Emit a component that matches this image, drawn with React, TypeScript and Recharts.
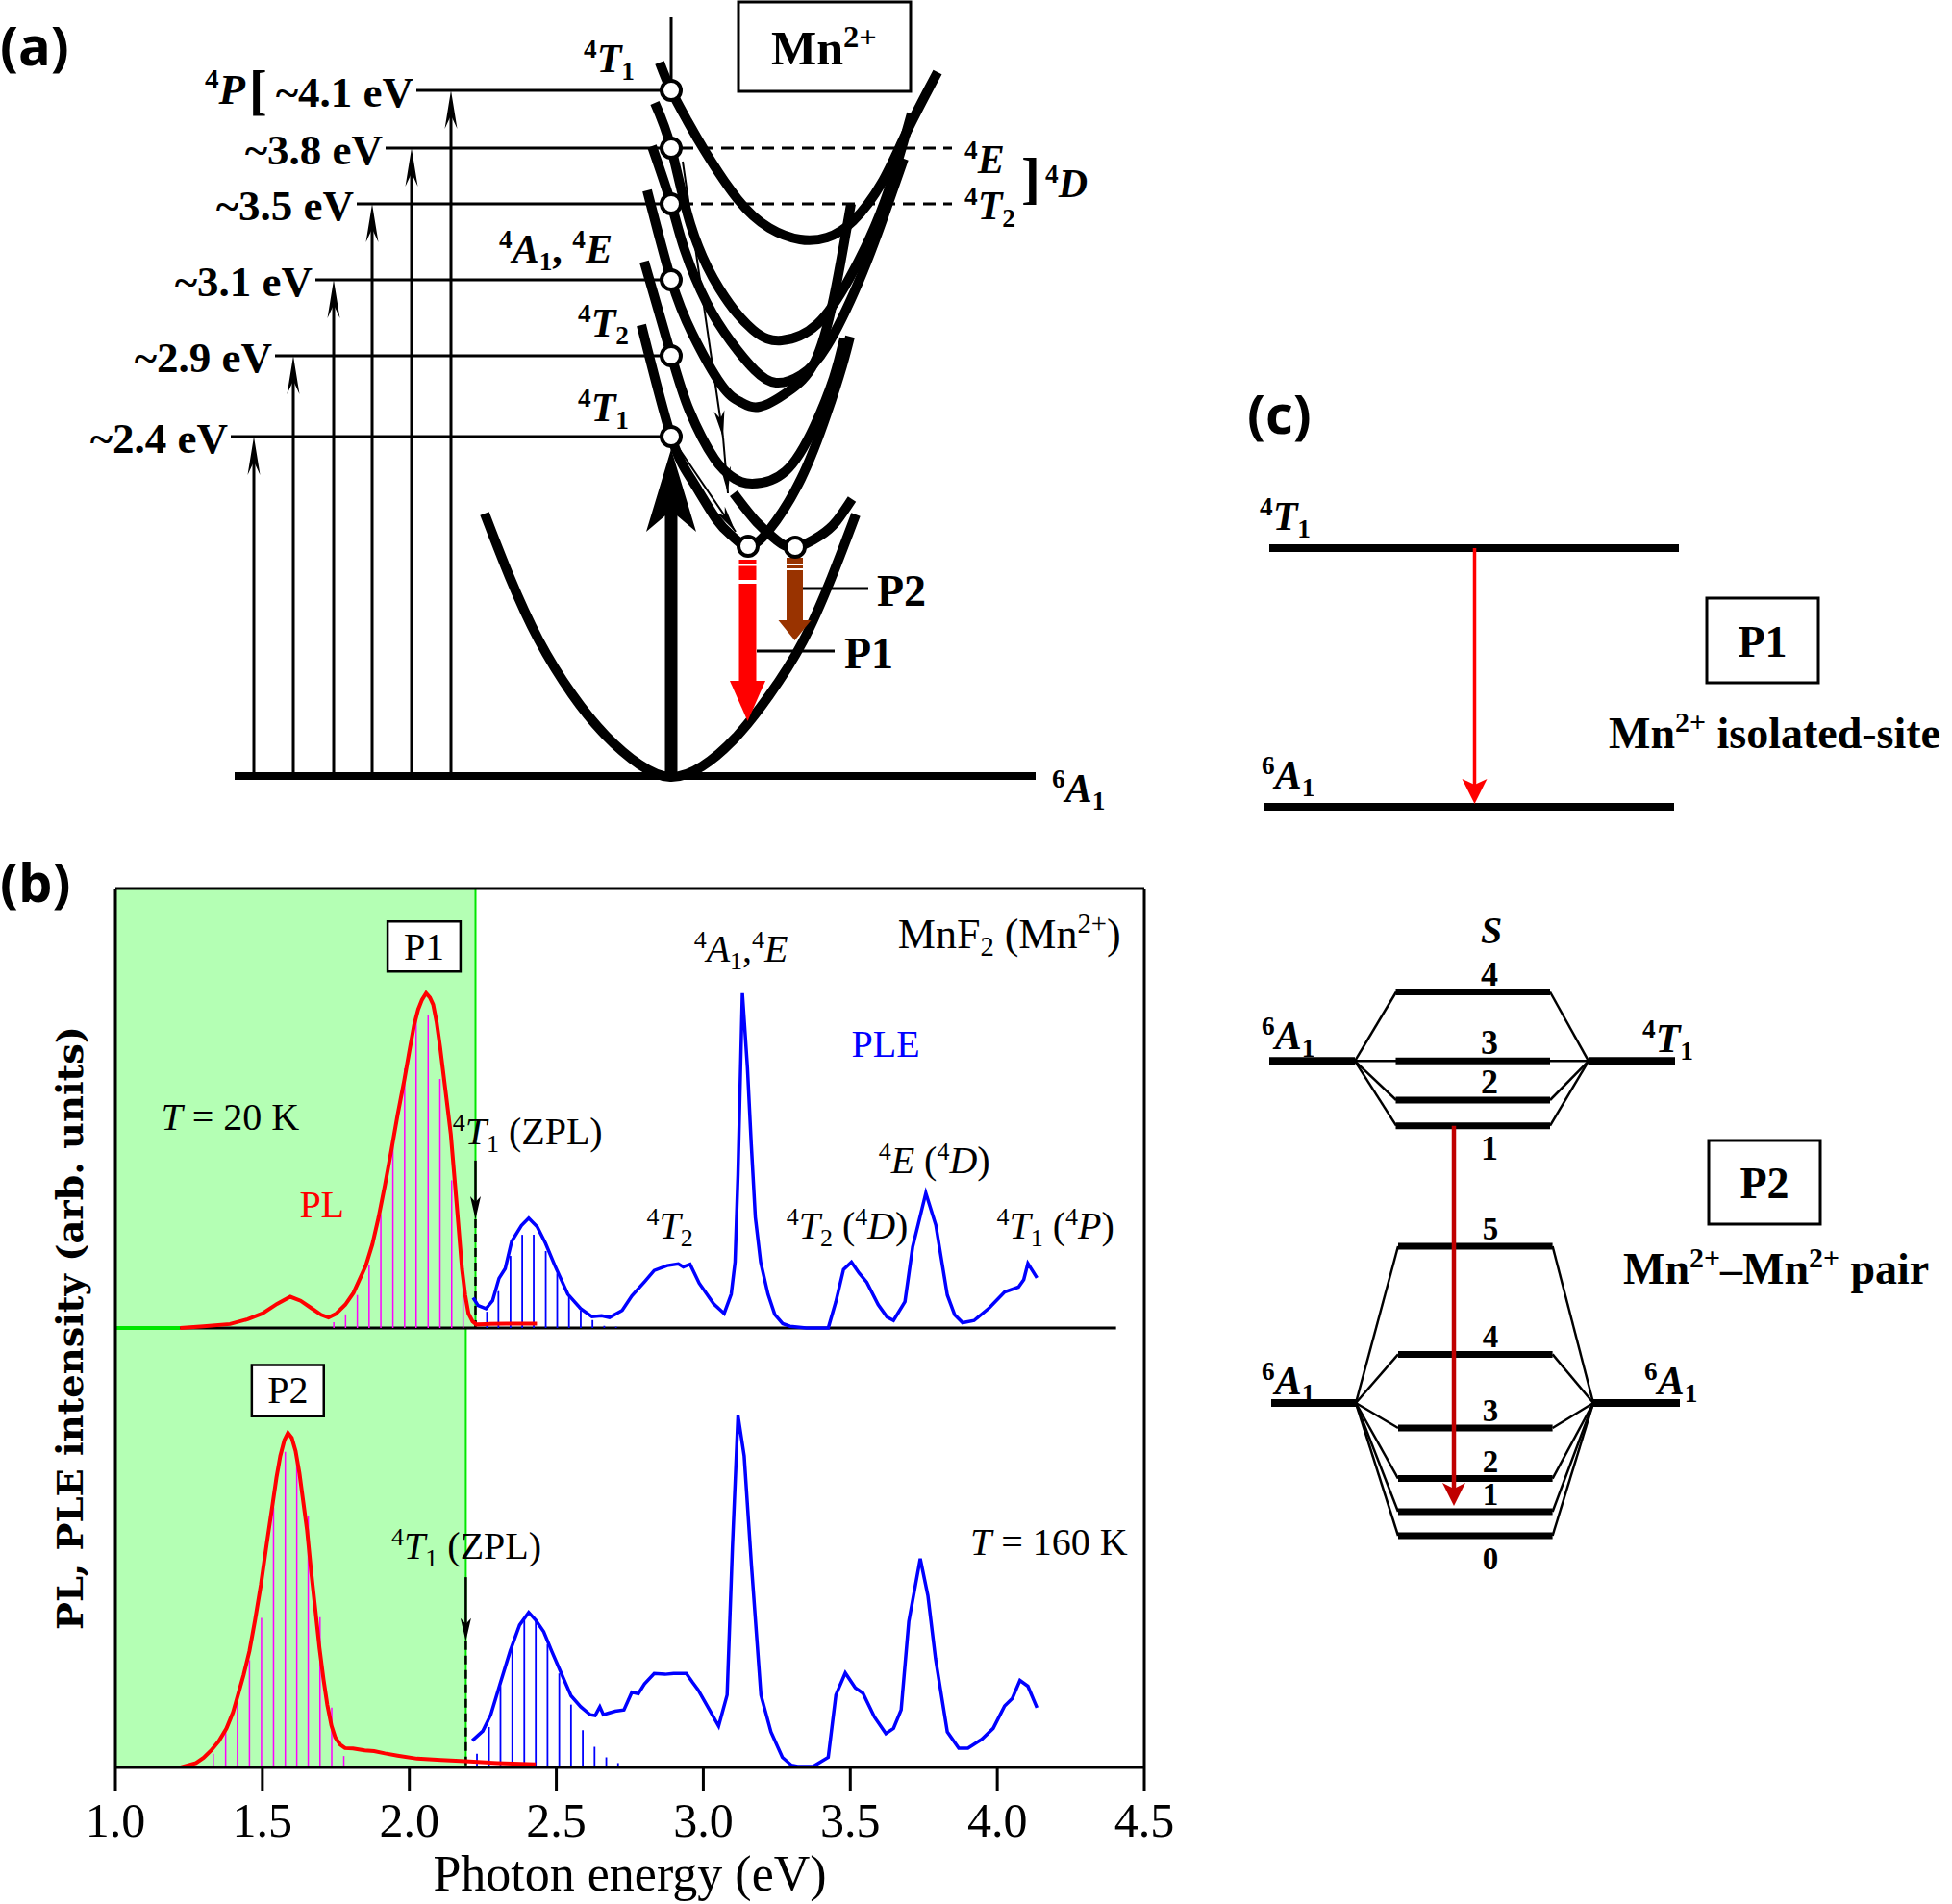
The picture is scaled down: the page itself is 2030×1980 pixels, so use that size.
import React from "react";
import {
  LineChart,
  Line,
  XAxis,
  YAxis,
  ReferenceLine,
  ReferenceArea,
  ReferenceDot,
} from "recharts";

const SERIF = '"Liberation Serif", "Times New Roman", serif';
const SANS = '"Open Sans", sans-serif';

type P = [number, number];

// ---------------- (b) spectra: [photon energy (eV), intensity] ----------------
const PL_20K: P[] = [
  [1.22, 0], [1.3, 0.004], [1.39, 0.009], [1.45, 0.02], [1.5, 0.033], [1.55, 0.055],
  [1.595, 0.071], [1.63, 0.062], [1.665, 0.046], [1.7, 0.03], [1.725, 0.024], [1.75, 0.032],
  [1.782, 0.053], [1.81, 0.08], [1.852, 0.142], [1.874, 0.19], [1.895, 0.251], [1.917, 0.325],
  [1.939, 0.405], [1.96, 0.485], [1.983, 0.565], [2.0, 0.63], [2.016, 0.689], [2.03, 0.725],
  [2.043, 0.747], [2.057, 0.762], [2.07, 0.752], [2.081, 0.736], [2.093, 0.695], [2.105, 0.638],
  [2.123, 0.54], [2.141, 0.441], [2.16, 0.29], [2.179, 0.135], [2.19, 0.075], [2.201, 0.033],
  [2.215, 0.015], [2.228, 0.008], [2.26, 0.009], [2.33, 0.01], [2.434, 0.01],
];

const PLE_20K: P[] = [
  [2.217, 0.069], [2.234, 0.051], [2.261, 0.044], [2.283, 0.062], [2.305, 0.113], [2.326, 0.135],
  [2.348, 0.197], [2.381, 0.233], [2.406, 0.25], [2.435, 0.23], [2.463, 0.193], [2.495, 0.142],
  [2.539, 0.077], [2.583, 0.044], [2.621, 0.026], [2.654, 0.028], [2.681, 0.024], [2.724, 0.04],
  [2.757, 0.073], [2.801, 0.106], [2.833, 0.131], [2.877, 0.142], [2.915, 0.146], [2.932, 0.139],
  [2.955, 0.145], [2.986, 0.102], [3.035, 0.055], [3.071, 0.033], [3.095, 0.077], [3.108, 0.15],
  [3.118, 0.35], [3.133, 0.762], [3.15, 0.594], [3.163, 0.42], [3.177, 0.252], [3.195, 0.15],
  [3.22, 0.077], [3.243, 0.031], [3.27, 0.01], [3.295, 0.004], [3.35, 0], [3.425, 0],
  [3.451, 0.06], [3.477, 0.133], [3.504, 0.15], [3.53, 0.125], [3.556, 0.104], [3.595, 0.053],
  [3.625, 0.025], [3.647, 0.017], [3.686, 0.06], [3.712, 0.184], [3.757, 0.307], [3.791, 0.234],
  [3.83, 0.075], [3.855, 0.03], [3.882, 0.012], [3.921, 0.017], [3.973, 0.046], [4.025, 0.082],
  [4.072, 0.093], [4.09, 0.11], [4.104, 0.147], [4.135, 0.114],
];

const PL_160K: P[] = [
  [1.222, 0], [1.274, 0.01], [1.3, 0.022], [1.326, 0.039], [1.352, 0.06], [1.378, 0.089],
  [1.4, 0.125], [1.417, 0.165], [1.436, 0.21], [1.456, 0.265], [1.475, 0.335], [1.495, 0.416],
  [1.515, 0.51], [1.535, 0.6], [1.548, 0.66], [1.561, 0.709], [1.575, 0.745], [1.587, 0.761],
  [1.6, 0.75], [1.613, 0.72], [1.626, 0.67], [1.639, 0.605], [1.652, 0.54], [1.666, 0.445],
  [1.68, 0.36], [1.694, 0.273], [1.708, 0.2], [1.721, 0.142], [1.735, 0.095], [1.748, 0.068],
  [1.765, 0.052], [1.781, 0.044], [1.808, 0.043], [1.848, 0.039], [1.88, 0.037], [1.917, 0.032],
  [1.96, 0.027], [2.026, 0.02], [2.108, 0.017], [2.19, 0.014], [2.3, 0.01], [2.43, 0.007],
];

const PLE_160K: P[] = [
  [2.214, 0.061], [2.25, 0.083], [2.277, 0.12], [2.31, 0.193], [2.343, 0.265], [2.375, 0.324],
  [2.406, 0.353], [2.43, 0.335], [2.457, 0.309], [2.484, 0.265], [2.517, 0.214], [2.55, 0.163],
  [2.583, 0.138], [2.615, 0.12], [2.632, 0.118], [2.648, 0.138], [2.66, 0.12], [2.675, 0.123],
  [2.7, 0.128], [2.73, 0.131], [2.757, 0.171], [2.779, 0.168], [2.8, 0.19], [2.833, 0.214],
  [2.87, 0.212], [2.899, 0.214], [2.942, 0.214], [2.964, 0.193], [2.982, 0.177], [3.021, 0.131],
  [3.052, 0.094], [3.081, 0.165], [3.099, 0.5], [3.118, 0.801], [3.139, 0.709], [3.164, 0.458],
  [3.196, 0.165], [3.23, 0.081], [3.269, 0.023], [3.3, 0.005], [3.321, 0.002], [3.373, 0.002],
  [3.425, 0.023], [3.451, 0.165], [3.483, 0.215], [3.517, 0.181], [3.543, 0.169], [3.582, 0.115],
  [3.621, 0.077], [3.647, 0.089], [3.673, 0.131], [3.699, 0.332], [3.738, 0.475], [3.764, 0.391],
  [3.79, 0.247], [3.83, 0.081], [3.869, 0.044], [3.9, 0.044], [3.947, 0.064], [3.986, 0.089],
  [4.025, 0.14], [4.051, 0.157], [4.077, 0.198], [4.104, 0.185], [4.135, 0.136],
];

const PL_20K_STICKS: P[] = [
  [1.743, 0.013], [1.783, 0.031], [1.823, 0.075], [1.863, 0.142], [1.903, 0.259], [1.944, 0.419],
  [1.984, 0.591], [2.023, 0.707], [2.064, 0.711], [2.104, 0.567], [2.144, 0.336], [2.183, 0.128],
];
const PLE_20K_STICKS: P[] = [
  [2.264, 0.037], [2.303, 0.084], [2.344, 0.164], [2.384, 0.212], [2.423, 0.212], [2.464, 0.175],
  [2.503, 0.124], [2.543, 0.073], [2.583, 0.04], [2.623, 0.018], [2.663, 0.005], [2.703, 0.003],
];
const PL_160K_STICKS: P[] = [
  [1.333, 0.031], [1.375, 0.081], [1.415, 0.148], [1.456, 0.244], [1.497, 0.34], [1.538, 0.592],
  [1.578, 0.718], [1.617, 0.705], [1.656, 0.571], [1.696, 0.342], [1.736, 0.136], [1.777, 0.026],
];
const PLE_160K_STICKS: P[] = [
  [2.23, 0.031], [2.271, 0.092], [2.31, 0.185], [2.35, 0.274], [2.391, 0.335], [2.43, 0.333],
  [2.47, 0.28], [2.51, 0.214], [2.55, 0.143], [2.59, 0.085], [2.63, 0.047], [2.67, 0.023],
  [2.71, 0.01], [2.749, 0.004],
];

const X_TICKS = [1.0, 1.5, 2.0, 2.5, 3.0, 3.5, 4.0, 4.5];
const OFFSET_20K = 1; // upper spectrum is stacked one unit above the lower
const ZPL_20K = 2.225;
const ZPL_160K = 2.192;

// ---------------- (a) configuration-coordinate diagram (diagram units) ----------------
const LEVEL_LABELS = ["~2.4 eV", "~2.9 eV", "~3.1 eV", "~3.5 eV", "~3.8 eV", "~4.1 eV"];
const LEVEL_E = [454, 370, 291, 212, 154, 94];
const LEVEL_LABEL_END = [237, 283, 325, 368, 398, 430];
const PUMP_Q = [264, 305, 347, 387, 428, 469];
const Q0 = 698;
const GROUND_E = 807;
const DASHED_E = [154, 212];

const GROUND_CURVE: P[] = [
  [504, 534], [530, 600], [560, 665], [595, 722], [630, 765], [665, 795], [697, 808],
  [730, 797], [765, 767], [800, 723], [835, 667], [865, 600], [890, 535],
];
const EXCITED_CURVES: P[][] = [
  [[686, 65], [698, 94], [715, 126], [733, 157], [767, 207], [800, 237], [832, 249], [860, 247], [887, 230], [917, 190], [943, 137], [975, 75]],
  [[681, 107], [698, 154], [718, 233], [748, 300], [783, 343], [813, 354], [850, 337], [883, 290], [910, 235], [930, 180], [948, 118]],
  [[678, 152], [698, 212], [712, 260], [735, 315], [760, 355], [785, 385], [807, 398], [833, 390], [860, 360], [893, 293], [918, 228], [940, 165]],
  [[673, 198], [698, 291], [720, 347], [750, 400], [770, 418], [790, 423], [820, 407], [847, 377], [867, 310], [885, 212]],
  [[670, 272], [698, 369], [717, 427], [743, 477], [763, 497], [782, 503], [817, 490], [847, 443], [867, 393], [878, 352]],
  [[667, 338], [698, 454], [720, 500], [745, 540], [762, 558], [778, 568], [800, 551], [833, 498], [860, 430], [876, 380], [884, 350]],
];
const WELL2_CURVE: P[] = [[763, 513], [787, 543], [808, 562], [827, 569], [853, 557], [870, 542], [886, 519]];
const RELAX: [P, P][] = [
  [[710, 168], [752, 455]],
  [[752, 455], [757, 513]],
  [[703, 462], [765, 553]],
];
const MINIMA: P[] = [[778, 568], [827, 569]];

// ---------------- (c) level schemes (diagram units) ----------------
const ISO_T1 = 570;
const ISO_A1 = 839;
const PAIR_EXC_S = [4, 3, 2, 1];
const PAIR_EXC_E = [1031.5, 1103.3, 1144, 1170.7];
const PAIR_EXC_REF = 1103.3;
const PAIR_GND_S = [5, 4, 3, 2, 1, 0];
const PAIR_GND_E = [1296, 1408.4, 1485, 1537.6, 1572, 1597];
const PAIR_GND_REF = 1459;

// ---------------- helpers ----------------
type Seg = { t: string; k?: "sup" | "sub"; i?: boolean };
const n = (t: string): Seg => ({ t });
const it = (t: string): Seg => ({ t, i: true });
const sup = (t: string): Seg => ({ t, k: "sup" });
const sub = (t: string): Seg => ({ t, k: "sub" });

type TextOpts = {
  anchor?: string;
  weight?: number;
  color?: string;
  family?: string;
  rotate?: number;
  length?: number;
};

function richShape(segs: Seg[], size: number, o: TextOpts = {}) {
  const { anchor = "start", weight = 700, color = "#000", family = SERIF, rotate, length } = o;
  return (p: any) => {
    let shift = 0;
    const spans = segs.map((s, i) => {
      const target = s.k === "sup" ? -0.36 * size : s.k === "sub" ? 0.2 * size : 0;
      const dy = target - shift;
      shift = target;
      return (
        <tspan key={i} dy={dy} fontSize={s.k ? size * 0.65 : size} fontStyle={s.i ? "italic" : "normal"}>
          {s.t}
        </tspan>
      );
    });
    return (
      <text
        x={p.cx}
        y={p.cy}
        textAnchor={anchor}
        fontFamily={family}
        fontWeight={weight}
        fontSize={size}
        fill={color}
        style={{ whiteSpace: "pre" }}
        transform={rotate ? `rotate(${rotate} ${p.cx} ${p.cy})` : undefined}
        textLength={length}
        lengthAdjust={length ? "spacingAndGlyphs" : undefined}
      >
        {spans}
      </text>
    );
  };
}

function note(key: string, x: number, y: number, segs: Seg[], size: number, o: TextOpts = {}) {
  return <ReferenceDot key={key} x={x} y={y} r={1} ifOverflow="visible" shape={richShape(segs, size, o)} />;
}

function headShape(dx: number, dy: number, w: number, len: number, notch: number, color: string) {
  const m = Math.hypot(dx, dy);
  const ux = dx / m;
  const uy = dy / m;
  const nx = -uy;
  const ny = ux;
  return (p: any) => {
    const { cx, cy } = p;
    const bx = cx - ux * len;
    const by = cy - uy * len;
    const pts = [
      [cx, cy],
      [bx + (nx * w) / 2, by + (ny * w) / 2],
      [cx - ux * (len - notch), cy - uy * (len - notch)],
      [bx - (nx * w) / 2, by - (ny * w) / 2],
    ];
    return <polygon points={pts.map((q) => q.join(",")).join(" ")} fill={color} />;
  };
}

// arrowhead; (dx, dy) is the pointing direction on screen
function head(key: string, x: number, y: number, dx: number, dy: number, w: number, len: number, notch: number, color = "#000") {
  return <ReferenceDot key={key} x={x} y={y} r={1} ifOverflow="visible" shape={headShape(dx, dy, w, len, notch, color)} />;
}

function path(key: string, pts: P[], stroke: string, width: number, type: any = "linear", dash?: string) {
  return (
    <Line
      key={key}
      data={pts.map(([x, y]) => ({ x, y }))}
      dataKey="y"
      type={type}
      stroke={stroke}
      strokeWidth={width}
      strokeDasharray={dash}
      dot={false}
      activeDot={false}
      legendType="none"
      isAnimationActive={false}
    />
  );
}

const ZERO = { top: 0, right: 0, bottom: 0, left: 0 };

// ---------------- panel (a) ----------------
function PanelA() {
  const stateLabel = (t: string, s: string): Seg[] => [sup("4"), it(t), sub(s)];
  return (
    <LineChart width={1180} height={870} margin={ZERO}>
      <XAxis type="number" dataKey="x" domain={[0, 1180]} hide allowDataOverflow />
      <YAxis type="number" dataKey="y" domain={[0, 870]} reversed hide allowDataOverflow />
      <ReferenceArea x1={768} x2={947} y1={2} y2={95} fill="#fff" fillOpacity={1} stroke="#000" strokeWidth={3} ifOverflow="visible" />

      {path("ground-level", [[244, GROUND_E], [1077, GROUND_E]], "#000", 8)}
      {LEVEL_E.map((e, i) => path(`lvl${i}`, [[LEVEL_LABEL_END[i] + 3, e], [Q0, e]], "#000", 3))}
      {PUMP_Q.map((q, i) => path(`pump${i}`, [[q, GROUND_E], [q, LEVEL_E[i] + 20]], "#000", 3))}
      {DASHED_E.map((e, i) => path(`dash${i}`, [[708, e], [990, e]], "#000", 3, "linear", "13 8"))}

      {path("ground", GROUND_CURVE, "#000", 10, "natural")}
      {EXCITED_CURVES.map((c, i) => path(`exc${i}`, c, "#000", 10, "natural"))}
      {path("well2", WELL2_CURVE, "#000", 10, "natural")}

      {path("pump-main", [[Q0, GROUND_E], [Q0, 530]], "#000", 13)}
      {path("top-line", [[Q0, 18], [Q0, LEVEL_E[5]]], "#000", 3)}
      {RELAX.map(([a, b], i) => path(`rel${i}`, [a, b], "#000", 2))}

      {path("p1-bar", [[777.5, 582], [777.5, 710]], "#ff0000", 18)}
      {path("p1-w1", [[768, 587.5], [787, 587.5]], "#fff", 2)}
      {path("p1-w2", [[768, 605], [787, 605]], "#fff", 4)}
      {path("p2-bar", [[826.5, 580], [826.5, 647]], "#993300", 17)}
      {path("p2-w1", [[818, 587], [835, 587]], "#fff", 2)}
      {path("p2-w2", [[818, 592], [835, 592]], "#fff", 2)}
      {path("p2-lead", [[835, 612], [903, 612]], "#000", 3)}
      {path("p1-lead", [[787, 677], [868, 677]], "#000", 3)}

      {PUMP_Q.map((q, i) => head(`ph${i}`, q, LEVEL_E[i], 0, -1, 13, 40, 14))}
      {head("main-head", Q0, 467, 0, -1, 52, 86, 22)}
      {RELAX.map(([a, b], i) => head(`rh${i}`, b[0], b[1], b[0] - a[0], b[1] - a[1], 11, 28, 8))}
      {head("p1-head", 777.5, 750, 0, 1, 37, 42, 0, "#ff0000")}
      {head("p2-head", 826.5, 666, 0, 1, 34, 21, 0, "#993300")}

      {LEVEL_E.map((e, i) => (
        <ReferenceDot key={`c${i}`} x={Q0} y={e} r={10} fill="#fff" stroke="#000" strokeWidth={4} ifOverflow="visible" />
      ))}
      {MINIMA.map(([q, e], i) => (
        <ReferenceDot key={`m${i}`} x={q} y={e} r={10} fill="#fff" stroke="#000" strokeWidth={4} ifOverflow="visible" />
      ))}

      {note("a", 0, 68, [n("(a)")], 56, { family: SANS })}
      {LEVEL_LABELS.map((t, i) => note(`ll${i}`, LEVEL_LABEL_END[i], LEVEL_E[i] + 17, [n(t)], 45, { anchor: "end" }))}
      {note("4P", 255, 108, [sup("4"), it("P")], 45, { anchor: "end" })}
      {note("brk", 259, 113, [n("[")], 56)}
      {note("t1top", 607, 75, stateLabel("T", "1"), 42)}
      {note("mn", 857, 67, [n("Mn"), sup("2+")], 50, { anchor: "middle" })}
      {note("4E", 1003, 180, [sup("4"), it("E")], 42)}
      {note("4T2r", 1003, 228, stateLabel("T", "2"), 42)}
      {note("brk2", 1062, 205, [n("]")], 60)}
      {note("4D", 1087, 205, [sup("4"), it("D")], 42)}
      {note("a1e", 519, 273, [sup("4"), it("A"), sub("1"), n(", "), sup("4"), it("E")], 42)}
      {note("t2", 601, 350, stateLabel("T", "2"), 42)}
      {note("t1", 601, 438, stateLabel("T", "1"), 42)}
      {note("a1", 1094, 834, [sup("6"), it("A"), sub("1")], 42)}
      {note("P2", 912, 630, [n("P2")], 46)}
      {note("P1", 878, 695, [n("P1")], 46)}
    </LineChart>
  );
}

// ---------------- panel (b) ----------------
function PanelB() {
  const up = (arr: P[]): P[] => arr.map(([x, v]) => [x, v + OFFSET_20K]);
  const sticks = (key: string, arr: P[], base: number, color: string, w: number) =>
    arr.map(([x, v], i) => (
      <ReferenceLine key={`${key}${i}`} segment={[{ x, y: base }, { x, y: base + v }]} stroke={color} strokeWidth={w} />
    ));
  const lab = 40;
  const reg = { weight: 400 };
  return (
    <LineChart width={1230} height={1120} margin={{ top: 64, right: 40, bottom: 0, left: 120 }}>
      <XAxis
        type="number"
        dataKey="x"
        domain={[1, 4.5]}
        ticks={X_TICKS}
        interval={0}
        allowDataOverflow
        height={142}
        tickSize={25}
        tickMargin={11}
        tickFormatter={(v: number) => v.toFixed(1)}
        axisLine={{ stroke: "#000", strokeWidth: 3 }}
        tickLine={{ stroke: "#000", strokeWidth: 3 }}
        tick={{ fill: "#000", fontSize: 50, fontFamily: SERIF }}
        label={{ value: "Photon energy (eV)", position: "insideBottom", offset: 14, fill: "#000", fontSize: 52, fontFamily: SERIF }}
      />
      <YAxis type="number" dataKey="y" domain={[0, 2]} hide allowDataOverflow />

      <ReferenceArea x1={1} x2={ZPL_20K} y1={1} y2={2} fill="#b4ffb4" fillOpacity={1} stroke="none" />
      <ReferenceArea x1={1} x2={ZPL_160K} y1={0} y2={1} fill="#b4ffb4" fillOpacity={1} stroke="none" />
      <ReferenceLine segment={[{ x: ZPL_20K, y: 1 }, { x: ZPL_20K, y: 2 }]} stroke="#00e600" strokeWidth={2} />
      <ReferenceLine segment={[{ x: ZPL_160K, y: 0 }, { x: ZPL_160K, y: 1 }]} stroke="#00e600" strokeWidth={2} />
      <ReferenceArea x1={1.926} x2={2.174} y1={1.811} y2={1.925} fill="#fff" fillOpacity={1} stroke="#000" strokeWidth={2.5} />
      <ReferenceArea x1={1.464} x2={1.709} y1={0.799} y2={0.916} fill="#fff" fillOpacity={1} stroke="#000" strokeWidth={2.5} />

      <ReferenceLine segment={[{ x: 1.052, y: OFFSET_20K }, { x: 4.404, y: OFFSET_20K }]} stroke="#000" strokeWidth={3} />
      <ReferenceLine segment={[{ x: 1.0, y: OFFSET_20K }, { x: 1.22, y: OFFSET_20K }]} stroke="#00e600" strokeWidth={4} />
      <ReferenceLine y={2} stroke="#000" strokeWidth={3} />
      <ReferenceLine x={1} stroke="#000" strokeWidth={3} />
      <ReferenceLine x={4.5} stroke="#000" strokeWidth={3} />

      {sticks("s1", PL_20K_STICKS, OFFSET_20K, "#ff00ff", 1.5)}
      {sticks("s2", PLE_20K_STICKS, OFFSET_20K, "#0000ff", 1.8)}
      {sticks("s3", PL_160K_STICKS, 0, "#ff00ff", 1.5)}
      {sticks("s4", PLE_160K_STICKS, 0, "#0000ff", 1.8)}

      {path("zpl20", [[ZPL_20K, 1.381], [ZPL_20K, 1.27]], "#000", 2.5)}
      {path("zpl20d", [[ZPL_20K, 1.247], [ZPL_20K, OFFSET_20K]], "#000", 2.5, "linear", "9 6")}
      {path("zpl160", [[ZPL_160K, 0.433], [ZPL_160K, 0.31]], "#000", 2.5)}
      {path("zpl160d", [[ZPL_160K, 0.287], [ZPL_160K, 0]], "#000", 2.5, "linear", "9 6")}

      {path("pl20", up(PL_20K), "#ff0000", 4)}
      {path("ple20", up(PLE_20K), "#0000ff", 3.5)}
      {path("pl160", PL_160K, "#ff0000", 4)}
      {path("ple160", PLE_160K, "#0000ff", 3.5)}

      {head("zh20", ZPL_20K, 1.247, 0, 1, 11, 24, 6)}
      {head("zh160", ZPL_160K, 0.287, 0, 1, 11, 24, 6)}

      {note("b", 0.6074, 1.969, [n("(b)")], 56, { family: SANS })}
      {note("ylab", 0.8888, 1.0, [n("PL, PLE intensity (arb. units)")], 38, {
        family: '"DejaVu Serif", serif',
        rotate: -90,
        anchor: "middle",
        length: 628,
      })}
      {note("p1", 2.05, 1.838, [n("P1")], lab, { ...reg, anchor: "middle" })}
      {note("p2", 1.587, 0.83, [n("P2")], lab, { ...reg, anchor: "middle" })}
      {note("mnf", 3.662, 1.865, [n("MnF"), sub("2"), n(" (Mn"), sup("2+"), n(")")], 44, reg)}
      {note("a1e", 2.968, 1.833, [sup("4"), it("A"), sub("1"), n(","), sup("4"), it("E")], lab, reg)}
      {note("ple", 3.504, 1.617, [n("PLE")], lab, { ...reg, color: "#0000ff" })}
      {note("t20", 1.155, 1.45, [it("T"), n(" = 20 K")], lab, reg)}
      {note("zpl1", 2.147, 1.418, [sup("4"), it("T"), sub("1"), n(" (ZPL)")], lab, reg)}
      {note("pl", 1.626, 1.251, [n("PL")], lab, { ...reg, color: "#ff0000" })}
      {note("e4d", 3.596, 1.352, [sup("4"), it("E"), n(" ("), sup("4"), it("D"), n(")")], lab, reg)}
      {note("t2", 2.807, 1.203, [sup("4"), it("T"), sub("2")], lab, reg)}
      {note("t2d", 3.282, 1.203, [sup("4"), it("T"), sub("2"), n(" ("), sup("4"), it("D"), n(")")], lab, reg)}
      {note("t1p", 3.998, 1.203, [sup("4"), it("T"), sub("1"), n(" ("), sup("4"), it("P"), n(")")], lab, reg)}
      {note("zpl2", 1.939, 0.475, [sup("4"), it("T"), sub("1"), n(" (ZPL)")], lab, reg)}
      {note("t160", 3.908, 0.483, [it("T"), n(" = 160 K")], lab, reg)}
    </LineChart>
  );
}

// ---------------- panel (c) ----------------
function PanelC() {
  const lvl = (key: string, x1: number, x2: number, e: number, w: number) => path(key, [[x1, e], [x2, e]], "#000", w);
  const a1 = (): Seg[] => [sup("6"), it("A"), sub("1")];
  return (
    <LineChart width={780} height={1300} margin={ZERO}>
      <XAxis type="number" dataKey="x" domain={[1250, 2030]} hide allowDataOverflow />
      <YAxis type="number" dataKey="y" domain={[380, 1680]} reversed hide allowDataOverflow />
      <ReferenceArea x1={1775} x2={1891} y1={622} y2={710} fill="#fff" fillOpacity={1} stroke="#000" strokeWidth={3} />
      <ReferenceArea x1={1777} x2={1893} y1={1186} y2={1273} fill="#fff" fillOpacity={1} stroke="#000" strokeWidth={3} />

      {lvl("t1", 1320, 1746, ISO_T1, 8)}
      {lvl("a1", 1315, 1741, ISO_A1, 8)}
      {path("iso-arrow", [[1533.5, ISO_T1], [1533.5, ISO_A1 - 20]], "#ff0000", 3.5)}

      {lvl("ex-l", 1320, 1409, PAIR_EXC_REF, 8)}
      {lvl("ex-r", 1652, 1742, PAIR_EXC_REF, 8)}
      {PAIR_EXC_E.map((e, i) => path(`exl${i}`, [[1409, PAIR_EXC_REF], [1452, e]], "#000", 2.5))}
      {PAIR_EXC_E.map((e, i) => path(`exr${i}`, [[1612, e], [1652, PAIR_EXC_REF]], "#000", 2.5))}
      {PAIR_EXC_E.map((e, i) => lvl(`ex${i}`, 1451.5, 1612, e, 7))}

      {lvl("gd-l", 1322, 1410, PAIR_GND_REF, 8)}
      {lvl("gd-r", 1657, 1747, PAIR_GND_REF, 8)}
      {PAIR_GND_E.map((e, i) => path(`gdl${i}`, [[1410, PAIR_GND_REF], [1454, e]], "#000", 2.5))}
      {PAIR_GND_E.map((e, i) => path(`gdr${i}`, [[1614.6, e], [1657, PAIR_GND_REF]], "#000", 2.5))}
      {PAIR_GND_E.map((e, i) => lvl(`gd${i}`, 1454, 1614.6, e, 7))}

      {path("pair-arrow", [[1512, PAIR_EXC_E[3]], [1512, 1548]], "#c00000", 4.5)}
      {head("iso-head", 1533.5, ISO_A1 - 3, 0, 1, 26, 26, 6, "#ff0000")}
      {head("pair-head", 1512, 1566, 0, 1, 24, 24, 6, "#c00000")}

      {note("c", 1297, 451, [n("(c)")], 56, { family: SANS })}
      {note("t1l", 1310, 551, [sup("4"), it("T"), sub("1")], 42)}
      {note("a1l", 1312, 820, a1(), 42)}
      {note("P1", 1833, 683, [n("P1")], 46, { anchor: "middle" })}
      {note("iso", 1673, 778, [n("Mn"), sup("2+"), n(" isolated-site")], 46)}
      {note("S", 1551, 981, [it("S")], 40, { anchor: "middle" })}
      {PAIR_EXC_S.map((s, i) =>
        note(`exn${i}`, 1549, i === PAIR_EXC_S.length - 1 ? PAIR_EXC_E[i] + 35 : PAIR_EXC_E[i] - 7, [n(String(s))], 36, { anchor: "middle" })
      )}
      {PAIR_GND_S.map((s, i) =>
        note(`gdn${i}`, 1550, i === PAIR_GND_S.length - 1 ? PAIR_GND_E[i] + 35 : PAIR_GND_E[i] - 7, [n(String(s))], 33, { anchor: "middle" })
      )}
      {note("exA", 1312, 1091, a1(), 42)}
      {note("exT", 1708, 1094, [sup("4"), it("T"), sub("1")], 42)}
      {note("gdA1", 1312, 1450, a1(), 42)}
      {note("gdA2", 1710, 1450, a1(), 42)}
      {note("P2", 1835, 1246, [n("P2")], 46, { anchor: "middle" })}
      {note("pair", 1688, 1335, [n("Mn"), sup("2+"), n("\u2013Mn"), sup("2+"), n(" pair")], 46)}
    </LineChart>
  );
}

export default function App() {
  return (
    <div style={{ position: "absolute", left: 0, top: 0, width: 2030, height: 1980, background: "#fff", overflow: "hidden" }}>
      <div style={{ position: "absolute", left: 0, top: 0 }}>
        <PanelA />
      </div>
      <div style={{ position: "absolute", left: 0, top: 860 }}>
        <PanelB />
      </div>
      <div style={{ position: "absolute", left: 1250, top: 380 }}>
        <PanelC />
      </div>
    </div>
  );
}
